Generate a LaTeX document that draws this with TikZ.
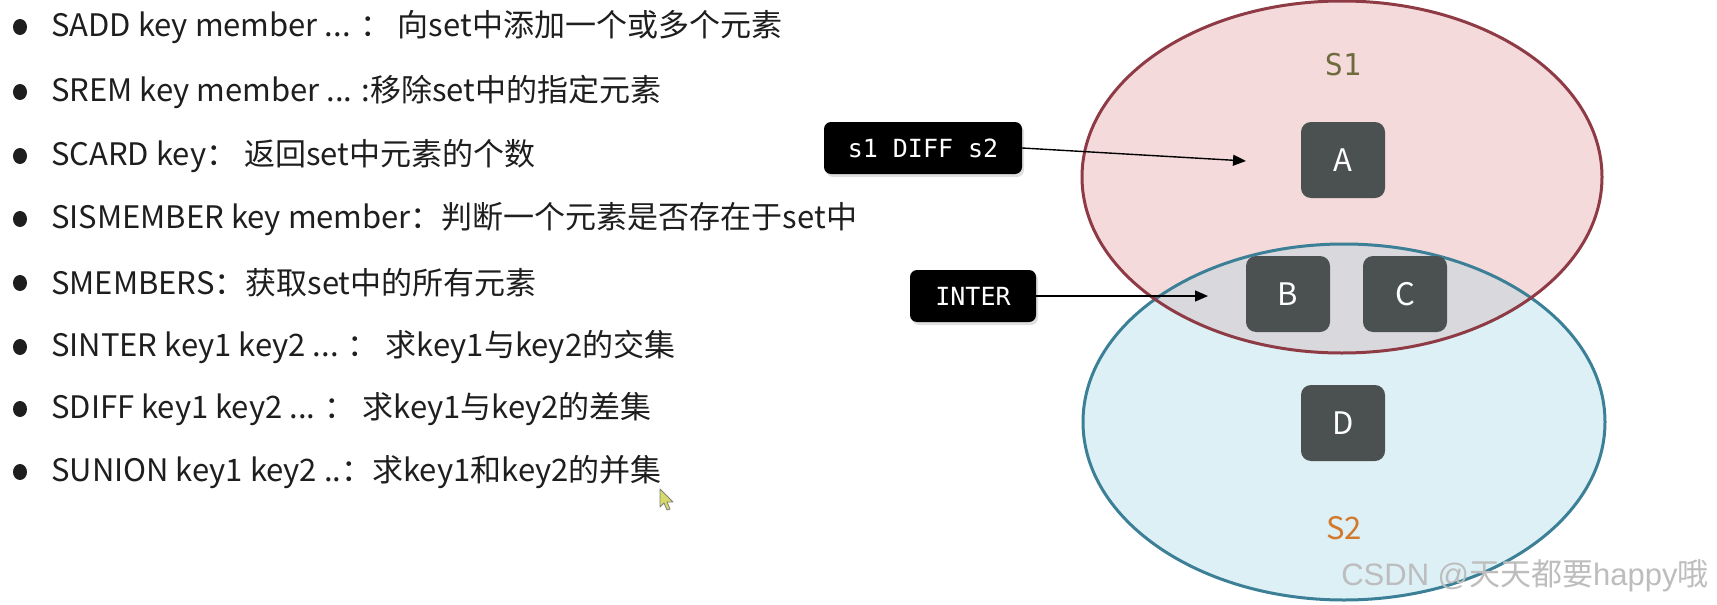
\documentclass[tikz,border=0pt]{standalone}
\usepackage{fontspec}
\setmainfont{Noto Sans CJK SC}
\newfontfamily\monofont{DejaVu Sans Mono}
\newfontfamily\wmfont{Liberation Sans}
\usetikzlibrary{shadows,arrows.meta,shapes.geometric}
\definecolor{sonefill}{HTML}{F5DADB}
\definecolor{soneline}{HTML}{8E3B46}
\definecolor{stwofill}{HTML}{DCF0F6}
\definecolor{stwoline}{HTML}{3B8096}
\definecolor{interfill}{HTML}{D9D8DD}
\definecolor{elemfill}{HTML}{4B5150}
\definecolor{txtcol}{HTML}{1E1E1E}
\definecolor{sonelab}{HTML}{6E6B3C}
\definecolor{stwolab}{HTML}{D4782C}
\definecolor{wmcol}{HTML}{BDBDBD}
\definecolor{cursorfill}{HTML}{D6DA6A}
\begin{document}
\begin{tikzpicture}[x=1pt,y=-1pt,
  bullet/.style={ellipse,fill=txtcol,inner sep=0pt,minimum width=14pt,minimum height=16pt},
  item/.style={anchor=west,inner sep=0pt,text=txtcol,font=\fontsize{31}{35}\selectfont},
  elem/.style={rounded corners=10pt,fill=elemfill,minimum width=84pt,minimum height=76pt,inner sep=0pt,text=white,font=\fontsize{31}{35}\selectfont},
  tagbox/.style={rounded corners=7pt,fill=black,text=white,inner sep=0pt,minimum height=52pt,font=\monofont\fontsize{25}{30}\selectfont,drop shadow={opacity=0.25,shadow xshift=2pt,shadow yshift=-3pt}},
  conn/.style={draw=black,line width=1.4pt,-{Triangle[length=13pt,width=11pt]}},
  setlab/.style={inner sep=0pt,font=\fontsize{31}{35}\selectfont}
]
\useasboundingbox (0,0) rectangle (1717,605);
\fill[white] (0,0) rectangle (1717,605);

% list
\foreach \y/\n in {27/1,92/2,156/3,219/4,283/5,347/6,409/7,472/8}{
  \node[bullet] (b\n) at (20,\y) {};
}
\node[item] (t1) at (51,27) {SADD key member ... ： 向set中添加一个或多个元素};
\node[item] (t2) at (51,92) {SREM key member ... :移除set中的指定元素};
\node[item] (t3) at (51,156) {SCARD key：\ 返回set中元素的个数};
\node[item] (t4) at (51,219) {SISMEMBER key member：判断一个元素是否存在于set中};
\node[item] (t5) at (51,283) {SMEMBERS：获取set中的所有元素};
\node[item] (t6) at (51,347) {SINTER key1 key2 ... ： 求key1与key2的交集};
\node[item] (t7) at (51,409) {SDIFF key1 key2 ... ： 求key1与key2的差集};
\node[item] (t8) at (51,472) {SUNION key1 key2 ..：求key1和key2的并集};

% sets
\fill[sonefill] (1342,177) ellipse [x radius=260pt, y radius=176pt];
\fill[stwofill] (1344,422) ellipse [x radius=261pt, y radius=178pt];
\begin{scope}
  \clip (1342,177) ellipse [x radius=260pt, y radius=176pt];
  \fill[interfill] (1344,422) ellipse [x radius=261pt, y radius=178pt];
\end{scope}
\draw[stwoline,line width=3pt] (1344,422) ellipse [x radius=261pt, y radius=178pt];
\draw[soneline,line width=3pt] (1342,177) ellipse [x radius=260pt, y radius=176pt];

\node[setlab,text=sonelab,font=\monofont\fontsize{30}{34}\selectfont] (s1) at (1343,65) {S1};
\node[setlab,text=stwolab] (s2) at (1344,528) {S2};

\node[elem] (A) at (1343,160) {A};
\node[elem] (B) at (1288,294) {B};
\node[elem] (C) at (1405,294) {C};
\node[elem] (D) at (1343,423) {D};

\node[tagbox,minimum width=198pt] (diff) at (923,148) {s1 DIFF s2};
\node[tagbox,minimum width=126pt] (inter) at (973,296) {INTER};
\coordinate (diffend) at (1246,161);
\coordinate (interend) at (1208,296);
\draw[conn] (diff.east) -- (diffend);
\draw[conn] (inter.east) -- (interend);

% cursor
\filldraw[fill=cursorfill,draw=gray,line width=0.8pt,line join=round]
  (660,489) -- (660,507) -- (664,503) -- (667,510) -- (670,509) -- (667,502) -- (673,502) -- cycle;

% watermark
\node[inner sep=0pt,text=wmcol,font=\fontsize{31}{34}\selectfont] (wm) at (1525,576) {{\wmfont CSDN @}天天都要{\wmfont happy}哦};
\end{tikzpicture}
\end{document}
